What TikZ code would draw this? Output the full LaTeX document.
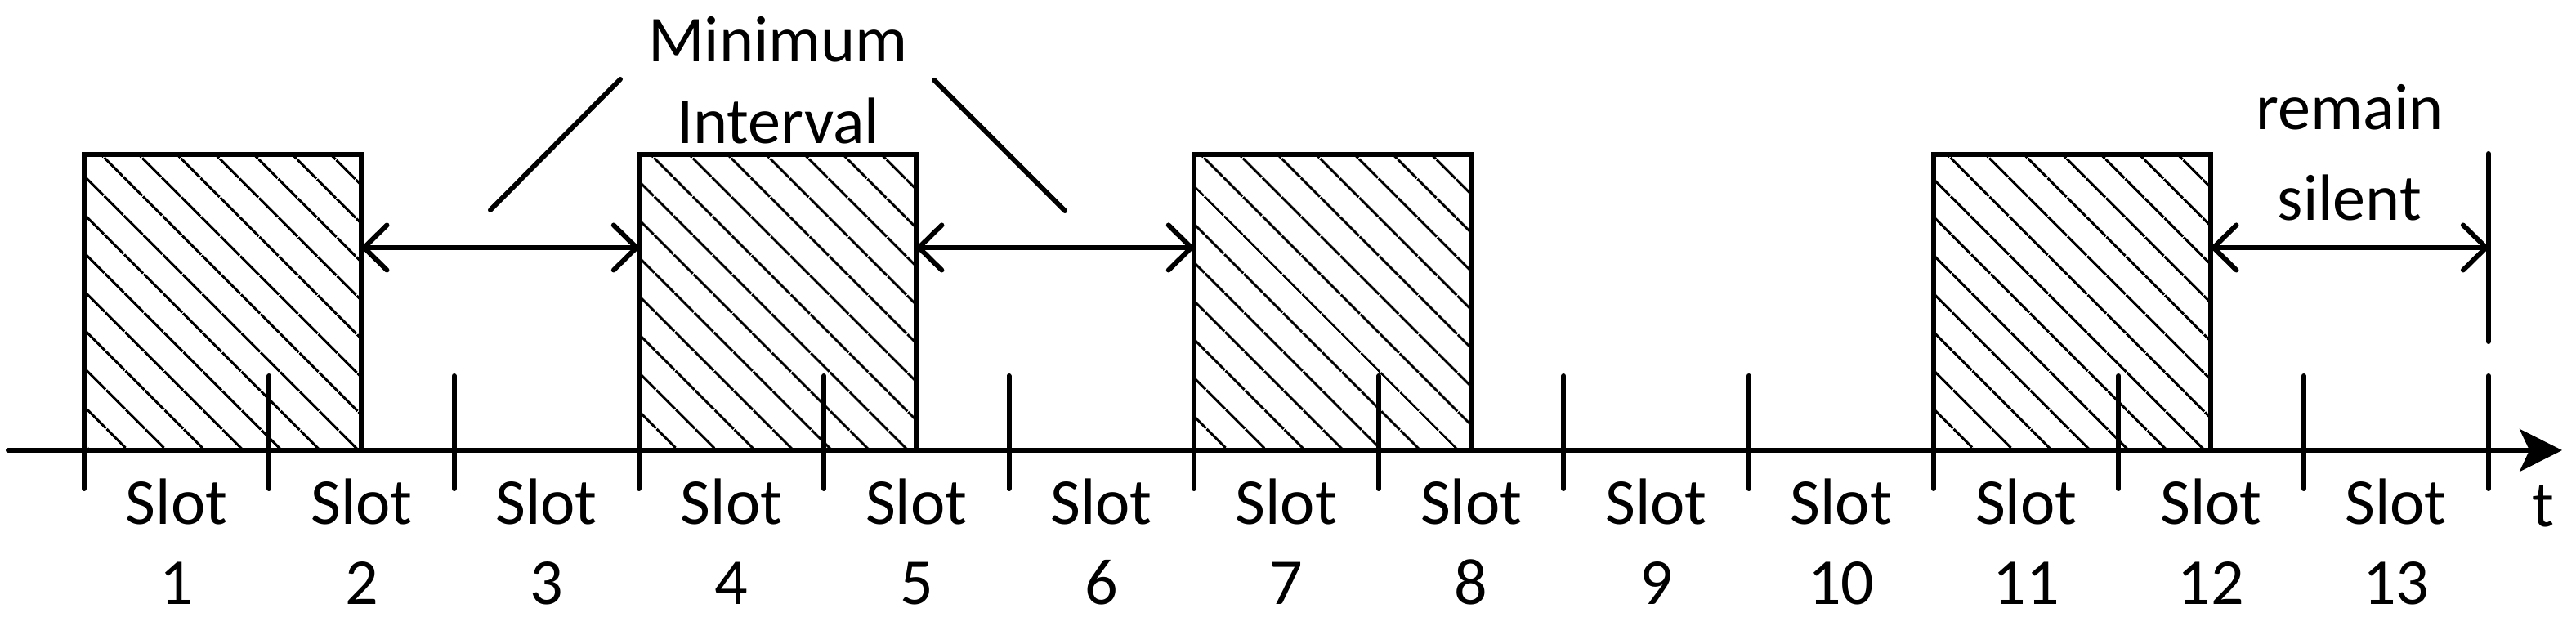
\documentclass[tikz,border=0pt]{standalone}
\usepackage{fontspec}
\setmainfont{Carlito}
\usetikzlibrary{arrows.meta,patterns.meta}

\begin{document}
\begin{tikzpicture}[line width=0.06cm, line cap=round,
  busy/.style={draw, inner sep=0, outer sep=0, minimum width=3.395cm, minimum height=3.62cm,
    pattern={Lines[angle=-45, distance=0.34cm, line width=0.032cm]}},
  gap/.style={{Straight Barb[length=0.28cm, width=0.55cm, round]}-{Straight Barb[length=0.28cm, width=0.55cm, round]}},
  lbl/.style={align=center, inner sep=0, anchor=base, font=\fontsize{22.8}{28}\selectfont}]
  \useasboundingbox (0,0) rectangle (31.52,7.77);
  % busy slots
  \node (b1) [busy] at (2.727cm, 4.07cm) {};
  \node (b2) [busy] at (9.516cm, 4.07cm) {};
  \node (b3) [busy] at (16.305cm, 4.07cm) {};
  \node (b4) [busy] at (25.357cm, 4.07cm) {};
  % time axis
  \coordinate (t0) at (0.10cm, 2.26cm);
  \coordinate (t1) at (31.35cm, 2.26cm);
  \draw [-{Stealth[length=0.52cm, width=0.52cm, inset=0.12cm]}] (t0) -- (t1);
  \foreach \k in {0,...,13}
    \draw ({1.03+2.263*\k}, 2.26) -- ++(0, -0.47);
  \foreach \k in {1,2,4,5,7,8,9,11,12,13}
    \draw ({1.03+2.263*\k}, 2.26) -- ++(0, 0.91);
  \foreach \j in {1,...,13}
    \node (s\j) [lbl] at ({1.03+2.263*(\j-0.5)}, 0.37) {Slot\\\j};
  \node (t) [lbl] at (31.12cm, 1.32cm) {t};
  % intervals
  \coordinate (e1) at (30.449cm, 5.89cm);
  \coordinate (e2) at (30.449cm, 3.59cm);
  \coordinate (e3) at (30.449cm, 4.74cm);
  \draw (e1) -- (e2);
  \draw [gap] ([yshift=-1.14cm]b1.north east) -- ([yshift=-1.14cm]b2.north west);
  \draw [gap] ([yshift=-1.14cm]b2.north east) -- ([yshift=-1.14cm]b3.north west);
  \draw [gap] ([yshift=-1.14cm]b4.north east) -- (e3);
  \node (mi) [lbl, font=\fontsize{22.8}{28.7}\selectfont] at (9.52cm, 6.01cm) {Minimum\\Interval};
  \node (rs) [lbl, font=\fontsize{22.8}{31.6}\selectfont] at (28.75cm, 5.07cm) {remain\\silent};
  \draw (6.00cm, 5.20cm) -- (7.59cm, 6.80cm);
  \draw (11.43cm, 6.79cm) -- (13.03cm, 5.19cm);
\end{tikzpicture}
\end{document}
